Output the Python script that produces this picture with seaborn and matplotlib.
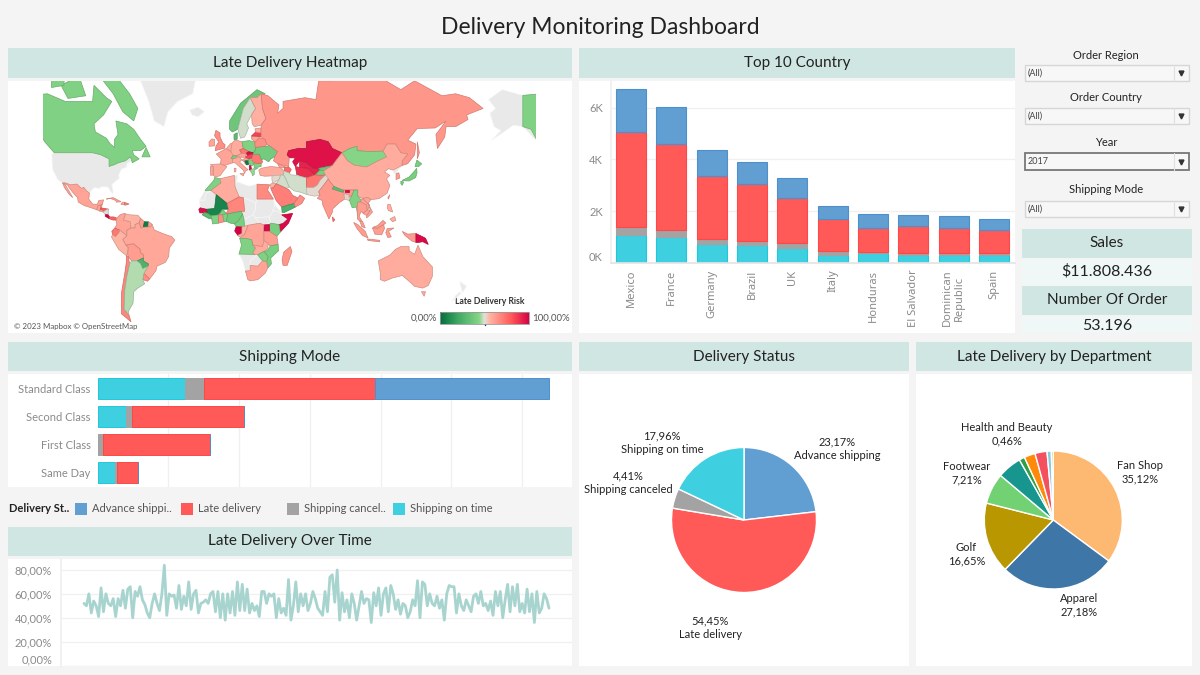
import numpy as np
import pandas as pd
import matplotlib
matplotlib.use("Agg")
import matplotlib.pyplot as plt
from matplotlib.colors import LinearSegmentedColormap, Normalize, to_rgb
from matplotlib.cm import ScalarMappable
from matplotlib.patches import Rectangle
from matplotlib.transforms import ScaledTranslation
import seaborn as sns

# ---------- data ----------
STATUS = ["Shipping on time", "Shipping canceled", "Late delivery", "Advance shipping"]
COL = {"Advance shipping": "#619ed2", "Late delivery": "#ff5a58",
       "Shipping canceled": "#a3a3a3", "Shipping on time": "#3ecfe0"}
EDGE = {"Advance shipping": "#4e90cc", "Late delivery": "#ff4747",
        "Shipping canceled": "#a3a3a3", "Shipping on time": "#1fc8dc"}

countries = ["Mexico", "France", "Germany", "Brazil", "UK", "Italy", "Honduras",
             "El Salvador", "Dominican\nRepublic", "Spain"]
c_ontime = [1070, 980, 720, 680, 580, 300, 360, 310, 310, 310]
c_cancel = [310, 290, 200, 160, 170, 140, 50, 60, 60, 60]
c_late = [3700, 3330, 2450, 2220, 1770, 1250, 930, 1060, 970, 910]
c_adv = [1640, 1430, 1000, 850, 750, 520, 530, 400, 470, 410]

modes = ["Standard Class", "Second Class", "First Class", "Same Day"]
m_ontime = [6165, 2000, 0, 1270]
m_cancel = [1349, 436, 390, 107]
m_late = [12066, 7904, 7590, 1498]
m_adv = [12305, 0, 0, 0]

status_labels = ["Advance shipping", "Late delivery", "Shipping canceled", "Shipping on time"]
status_share = [23.17, 54.45, 4.41, 17.96]

dept_share = [35.12, 27.18, 16.65, 7.21, 5.68, 1.3, 2.6, 2.8, 1.0, 0.46]
dept_colors = ["#fdb872", "#3f76a8", "#b99700", "#72d273", "#17968f", "#2f9e44",
               "#ff8a0a", "#f45060", "#8cc8e0", "#e8c84a"]

late_pct = [52,50,60,44,54,50,41,65,45,60,52,50,56,41,56,50,63,48,64,66,40,62,58,66,55,51,44,40,52,60,
            52,46,60,84,42,60,58,59,48,67,47,58,50,70,47,60,63,44,52,53,
            55,52,60,62,45,62,40,60,38,60,44,62,42,70,46,68,46,64,44,52,46,50,41,62,62,52,60,58,60,40,
            56,44,48,42,72,38,50,70,45,60,50,60,46,52,62,56,48,
            45,42,62,45,74,76,53,80,38,61,45,55,40,60,52,38,50,62,52,56,55,36,61,50,65,42,60,65,45,67,
            60,47,55,43,52,50,40,45,55,50,71,40,70,68,50,60,52,
            50,58,48,55,38,60,67,66,66,44,60,50,46,55,50,45,58,60,52,62,50,52,46,54,42,62,50,62,40,55,
            68,45,66,50,68,45,52,44,64,45,60,36,62,44,48,60,56,48]

# late-delivery risk per country (None = no data), outline in lon/lat
RISK = {
 "Canada":.42,"Arctic":.42,"USA":None,"Alaska":None,"Greenland":None,"Mexico":.60,"Guatemala":.60,"Belize":.62,
 "Honduras":.80,"ElSalvador":.55,"Nicaragua":.50,"CostaRica":1.0,"Panama":.78,"Cuba":.60,"Haiti":.60,"DomRep":.70,
 "Colombia":.60,"Venezuela":.56,"Guyana":.62,"Suriname":.05,"FrGuiana":.60,"Ecuador":.72,"Peru":.56,"Brazil":.59,
 "Bolivia":.62,"Paraguay":.25,"Uruguay":.66,"Chile":.68,"Argentina":.47,
 "Morocco":.42,"WSahara":None,"Algeria":.58,"Tunisia":None,"Libya":None,"Egypt":.67,"Mauritania":None,"Mali":.08,
 "Senegal":.97,"Guinea":.30,"Ivory":.42,"Burkina":.40,"Ghana":.66,"Togo":.42,"Niger":.68,"Nigeria":.38,"Chad":None,
 "Sudan":None,"SSudan":None,"Ethiopia":None,"Eritrea":None,"Somalia":.98,"Kenya":.40,"Uganda":.98,"Tanzania":.62,
 "Cameroon":.40,"CAR":None,"Gabon":1.0,"Congo":.56,"DRC":.60,"Angola":.42,"Zambia":.58,"Mozambique":.40,
 "Zimbabwe":.42,"Namibia":None,"Botswana":None,"SAfrica":.60,"Madagascar":.64,
 "Iceland":None,"UK":.66,"Ireland":.60,"France":.60,"Spain":.58,"Portugal":.60,"Benelux":.58,"Germany":.58,
 "Denmark":.30,"Norway":.36,"Sweden":.49,"Finland":.57,"Poland":.42,"Czechia":.72,"Slovakia":.97,"Austria":.60,
 "Switzerland":.40,"Italy":.58,"Hungary":.85,"Croatia":.60,"Bosnia":.05,"Serbia":.42,"Albania":.97,"Greece":.45,
 "Bulgaria":.42,"Romania":.72,"Ukraine":.38,"Belarus":.66,"Lithuania":.60,"Latvia":.85,"Estonia":.58,"Russia":.64,
 "Kazakhstan":.96,"Uzbekistan":.92,"Turkmenistan":.90,"Kyrgyzstan":.35,"Tajikistan":.40,"Mongolia":.44,"China":.58,
 "NKorea":None,"SKorea":.62,"Japan":.40,"Taiwan":.62,"Turkey":.58,"Georgia":.62,"Azerbaijan":.75,"Syria":.51,
 "Iraq":.49,"Iran":.49,"Jordan":.56,"Saudi":.70,"Yemen":.25,"Oman":.66,"Afghanistan":.72,"Pakistan":.51,"India":.63,
 "Nepal":.32,"Bhutan":.98,"Bangladesh":.52,"SriLanka":.74,"Myanmar":.42,"Thailand":.62,"Laos":.60,"Vietnam":.60,
 "Cambodia":.60,"Malaysia":.62,"Indonesia":.62,"PNG":.98,"Philippines":.57,"Australia":.58,"Tasmania":.58,"NZ":None,
}
SHAPES = {
 "Canada":[[(-141,69.6),(-128,70),(-115,68),(-95,68),(-94,72),(-85,69),(-81,68),(-87,64),(-94,61),(-93,58),(-85,55.5),(-82,53),(-79,51.5),(-79,55),(-76.5,57),(-78,62),(-70,61),(-65,59),(-60,55),(-56,52),(-60,50),(-66,50),(-65,48),(-61,46),(-66,44),(-67.5,47),(-71,45),(-76,44),(-79,43),(-83,42),(-83,46),(-89,48),(-95,49),(-123,49),(-130,54),(-135,59),(-141,60)]],
 "Arctic":[[(-62,66),(-68,70),(-78,74),(-90,74),(-80,70),(-73,65),(-65,62)],[(-118,72),(-105,74),(-100,69.5),(-113,68.8)],[(-125,76),(-115,76),(-116,72),(-125,71.5)],[(-59,47),(-53,47),(-56,51.5)]],
 "USA":[[(-124.7,48.4),(-123,49),(-95,49),(-89,48),(-83,46),(-83,42),(-79,43),(-76,44),(-71,45),(-67.5,47),(-67,44.8),(-70,43.5),(-70,41.7),(-74,40.5),(-76,37),(-75.5,35.3),(-81,31.5),(-80,27),(-80.5,25.2),(-82.5,28),(-84,30),(-89,30),(-90,29),(-94,29.5),(-97.3,26),(-99.5,27.5),(-101.5,29.8),(-103,29),(-106.5,31.8),(-111,31.3),(-114.8,32.5),(-117.2,32.5),(-120.5,34.5),(-124,40),(-124.5,43)]],
 "Alaska":[[(-141,60),(-141,69.6),(-156,71),(-166,68.5),(-161,66),(-165,64.5),(-162,60),(-157,58.5),(-164,54.6),(-152,59),(-148,60.5)],[(-141,60),(-135,59),(-130,54.5),(-133,55.5),(-138,58.5)]],
 "Greenland":[[(-73,76),(-20,76),(-20,73),(-22,70),(-33,68),(-40,65),(-43,60),(-50,62),(-54,68),(-60,73)]],
 "Mexico":[[(-117,32.5),(-114.8,32.5),(-111,31.3),(-106.5,31.8),(-103,29),(-101.5,29.8),(-99.5,27.5),(-97.3,26),(-97.8,22),(-95,18.5),(-91.5,18.5),(-90.5,21),(-87,21.5),(-88,18),(-91,17.5),(-92,14.6),(-96,16),(-101,17.5),(-105.5,20),(-106,23),(-109.5,26.5),(-112.5,30),(-113,31)],[(-114.7,31),(-112,27),(-109.5,23),(-112,25),(-115.5,29.5),(-117,32.5)]],
 "Guatemala":[[(-92,14.6),(-91,17.5),(-89.2,17.8),(-89.2,15.8),(-88.3,15.7),(-90,13.8)]],
 "Belize":[[(-89.2,17.8),(-88.3,18.4),(-88.3,16),(-89.2,15.9)]],
 "Honduras":[[(-89.2,15.8),(-88,15.8),(-83.2,15),(-84.7,14.7),(-87.5,13),(-89.2,14.3)]],
 "ElSalvador":[[(-90,13.8),(-89.2,14.3),(-87.7,13.8),(-87.8,13.2),(-89.8,13.4)]],
 "Nicaragua":[[(-87.5,13),(-84.7,14.7),(-83.2,15),(-83.7,11),(-85.7,11.1)]],
 "CostaRica":[[(-85.7,11.1),(-83.7,11),(-82.6,9.5),(-83,8.3),(-85.8,10)]],
 "Panama":[[(-83,8.3),(-82.6,9.5),(-79.5,9.5),(-77.3,8.6),(-77.9,7.2),(-80.4,7.3)]],
 "Cuba":[[(-85,22),(-80,23),(-74.2,20.2),(-77.7,19.9),(-78,21),(-82,22.5)]],
 "Haiti":[[(-74.4,18.5),(-73,19.9),(-71.7,19.8),(-71.6,18)]],
 "DomRep":[[(-71.7,19.8),(-68.4,18.6),(-71.5,17.8)]],
 "Colombia":[[(-77.3,8.6),(-75,11),(-72,12),(-71,11),(-72.5,7.3),(-67.5,6),(-67,1.5),(-70,-0.2),(-70,-4.2),(-74.5,-0.5),(-78.8,1.4),(-77.3,4),(-77.9,7.2)]],
 "Venezuela":[[(-72,12),(-68,11),(-62,10.7),(-60,8.5),(-61,5.2),(-64,4),(-64,1.5),(-67,1.5),(-67.5,6),(-72.5,7.3),(-71,11)]],
 "Guyana":[[(-60,8.5),(-57.2,6),(-58,2),(-59.8,1.3),(-61,5.2)]],
 "Suriname":[[(-57.2,6),(-54,5.9),(-54.5,2.3),(-58,2)]],
 "FrGuiana":[[(-54,5.9),(-51.6,4.2),(-52.8,2.3),(-54.5,2.3)]],
 "Ecuador":[[(-78.8,1.4),(-75.3,-0.1),(-75.5,-1.5),(-78.3,-4.9),(-80.3,-3.4),(-81,-1)]],
 "Peru":[[(-80.3,-3.4),(-78.3,-4.9),(-75.5,-1.5),(-75.3,-0.1),(-70,-4.2),(-73,-7),(-70.6,-11),(-69,-12.5),(-69.4,-17.3),(-70.4,-18.3),(-76,-14),(-81.3,-5)]],
 "Brazil":[[(-70,-4.2),(-70,-0.2),(-67,1.5),(-64,1.5),(-64,4),(-61,5.2),(-59.8,1.3),(-58,2),(-52.8,2.3),(-51.6,4.2),(-50,0),(-44,-2.5),(-37,-5),(-35,-7.5),(-39,-13),(-39.5,-19),(-42,-23),(-48,-25.5),(-48.8,-28.5),(-53.4,-33.7),(-57.6,-30.2),(-54.6,-25.6),(-54.3,-24),(-58,-22),(-57.8,-18),(-60.2,-16.2),(-60.5,-13.7),(-65.3,-10),(-70.6,-11),(-73,-7)]],
 "Bolivia":[[(-69,-12.5),(-70.6,-11),(-65.3,-10),(-60.5,-13.7),(-60.2,-16.2),(-57.8,-18),(-58,-20),(-62.5,-22),(-66.5,-22),(-69,-19),(-69.4,-17.3)]],
 "Paraguay":[[(-62.5,-22),(-58,-20),(-58,-22),(-54.3,-24),(-54.6,-25.6),(-58.5,-27.2),(-60,-24)]],
 "Uruguay":[[(-57.6,-30.2),(-53.4,-33.7),(-55,-35),(-58.4,-34)]],
 "Chile":[[(-70.4,-18.3),(-69,-19),(-68,-24),(-70,-32),(-71.5,-40),(-72,-50),(-68.5,-52.5),(-67,-55.5),(-74,-52),(-74,-42),(-71.5,-30),(-70.4,-23)]],
 "Argentina":[[(-66.5,-22),(-62.5,-22),(-60,-24),(-58.5,-27.2),(-54.6,-25.6),(-57.6,-30.2),(-58.4,-34),(-57,-36.5),(-62,-39),(-65,-41),(-65.5,-47),(-69,-51),(-68.5,-52.5),(-72,-50),(-71.5,-40),(-70,-32),(-68,-24)]],
 "Morocco":[[(-5.9,35.8),(-2,35),(-1.2,32.5),(-8.7,27.7),(-13,27.7),(-9.7,31),(-6.5,34)]],
 "WSahara":[[(-13,27.7),(-8.7,27.7),(-12,26),(-13,21.3),(-17,21.4)]],
 "Algeria":[[(-2,35),(8.5,37),(9,30),(12,23.5),(3.2,19),(-4.8,25),(-8.7,27.7),(-1.2,32.5)]],
 "Tunisia":[[(8.5,37),(11,37),(10.2,33.5),(9,30)]],
 "Libya":[[(11,33),(19,30.5),(25,31.7),(25,20),(24,19.5),(15,23),(12,23.5),(9,30),(10.2,33.5)]],
 "Egypt":[[(25,31.7),(34.2,31.3),(32.7,28),(37,22),(25,22)]],
 "Mauritania":[[(-17,21.2),(-13,21.3),(-13,23),(-12,26),(-8.7,27.3),(-4.8,25),(-6,15.5),(-12,15),(-16.5,16)]],
 "Mali":[[(-4.8,25),(3.2,19),(4.2,15),(0,15),(-3,11),(-8.3,10.3),(-11.3,12.3),(-12,15),(-6,15.5)]],
 "Senegal":[[(-17.5,14.7),(-16.5,16),(-12,15),(-11.3,12.3),(-16.7,12.4)]],
 "Guinea":[[(-15,11),(-13.7,12.6),(-11.3,12.3),(-8.3,10.3),(-8,8),(-10.5,8.5)]],
 "Ivory":[[(-8,8),(-8.3,10.3),(-3,11),(-3,5),(-7.5,4.4)]],
 "Burkina":[[(-3,11),(0,15),(2.5,12),(0,11)]],
 "Ghana":[[(-3,5),(-3,11),(0,11),(1,6)]],
 "Togo":[[(1,6),(0,11),(3.6,11.7),(2.7,6.3)]],
 "Niger":[[(4.2,15),(3.2,19),(12,23.5),(15,23),(16,13.5),(13.5,13.5),(3.6,11.7),(2.5,12)]],
 "Nigeria":[[(2.7,6.3),(3.6,11.7),(13.5,13.5),(14.5,11.5),(11.5,6.7),(8.5,4.5),(5.5,5)]],
 "Chad":[[(15,23),(24,19.5),(24,15),(22,11),(15.5,7.5),(14.5,11.5),(13.5,13.5),(16,13.5)]],
 "Sudan":[[(25,22),(37,22),(38,18),(36,12.5),(34,9.5),(24,9),(22,11),(24,15),(24,19.5),(25,20)]],
 "SSudan":[[(24,9),(34,9.5),(35,5),(30,3.7),(27,5),(22,11)]],
 "Eritrea":[[(36.5,14.3),(38,18),(43,12.5),(42,12.5)]],
 "Ethiopia":[[(36,12.5),(36.5,14.3),(42,12.5),(43,11),(47.5,8),(44,4.8),(41,4),(35,5),(34,9.5)]],
 "Somalia":[[(43,11),(51,12),(48,5),(42,-1.5),(41,4),(44,4.8),(47.5,8)]],
 "Kenya":[[(35,5),(41,4),(42,-1.5),(39.5,-4.6),(34,-1),(34,4)]],
 "Uganda":[[(30,3.7),(34,4),(34,-1),(30,-1)]],
 "Tanzania":[[(30,-1),(34,-1),(39.5,-4.6),(40.4,-10.5),(34.7,-11.5),(30,-8)]],
 "Cameroon":[[(8.5,4.5),(11.5,6.7),(14.5,11.5),(15.5,7.5),(16,2),(9.8,2.3)]],
 "CAR":[[(15.5,7.5),(22,11),(27,5),(18.5,3.5),(16,2)]],
 "Gabon":[[(9.8,2.3),(14,2.2),(14,-2.5),(11,-3.9),(8.7,-0.7)]],
 "Congo":[[(14,2.2),(18.5,3.5),(16,-3),(12,-5),(11,-3.9),(14,-2.5)]],
 "DRC":[[(18.5,3.5),(27,5),(30,3.7),(29.5,-4.5),(30,-8),(29,-12),(22,-11),(21,-7),(12.3,-6),(16,-3)]],
 "Angola":[[(12.3,-6),(16,-6),(21,-7),(22,-11),(24,-13),(22,-16.5),(23.4,-17.6),(11.8,-17.3),(13.7,-11)]],
 "Zambia":[[(22,-11),(29,-12),(30,-8),(33,-9.5),(33,-13.5),(30,-15.5),(25.5,-17.8),(23.4,-17.6),(22,-16.5),(24,-13)]],
 "Mozambique":[[(34.7,-11.5),(40.4,-10.5),(40.7,-15),(35,-20),(35.5,-24),(32.8,-26.8),(32,-22.5),(33,-19),(30.3,-15.6),(33,-14.5)]],
 "Zimbabwe":[[(25.5,-17.8),(30,-15.5),(33,-19),(32,-22.5),(29,-22)]],
 "Namibia":[[(11.8,-17.3),(23.4,-17.6),(25,-18),(20,-22),(20,-28.5),(16.5,-28.6),(14.5,-22)]],
 "Botswana":[[(20,-22),(25,-18),(25.5,-17.8),(29,-22),(25.5,-25.5),(20,-25)]],
 "SAfrica":[[(16.5,-28.6),(20,-28.5),(20,-25),(25.5,-25.5),(29,-22),(32,-22.5),(32.8,-26.8),(31,-30),(25.7,-34),(20,-34.8),(18.3,-34)]],
 "Madagascar":[[(49.3,-12),(50.5,-15.5),(47,-25),(44,-25),(43.3,-21),(44.5,-16)]],
 "Iceland":[[(-24,65.5),(-18,66.4),(-13.5,65),(-18,63.4),(-22.5,64)]],
 "UK":[[(-5.5,50),(1.4,51.2),(1.7,52.7),(0,53.5),(-2,56),(-2,57.6),(-5,58.6),(-6,56.5),(-3,54),(-5,52)]],
 "Ireland":[[(-10,52),(-6,52.2),(-6,55),(-8,55.2),(-10,54)]],
 "France":[[(-4.7,48.4),(2.5,51),(8,49),(7.5,44),(3,43),(1.5,42.5),(-1.7,43.4),(-1.2,46)]],
 "Spain":[[(-9.2,43),(-1.7,43.4),(3,42),(0,39),(-2,36.8),(-5.5,36),(-7,37.2),(-7,42)]],
 "Portugal":[[(-9,42),(-7,42),(-7,37.2),(-8.9,37)]],
 "Benelux":[[(3,51.3),(6,53.4),(7,53),(6,49.5),(3,50.8)]],
 "Germany":[[(6,51),(7,53.5),(9,54.8),(14,54),(15,51),(12.3,50.3),(13.8,48.7),(10,47.5),(7.6,47.6),(6,49.5)]],
 "Denmark":[[(8.2,55),(8.2,57),(10.6,57.7),(10.5,55)]],
 "Norway":[[(5,59),(5,62),(13,67.5),(25,71),(31,70),(25,69),(20,69),(15,66),(12,61),(11,59),(7,58)]],
 "Sweden":[[(11,59),(12,61),(15,66),(20,69),(24,66),(21,64),(17.5,61),(18.8,59.5),(16,56),(13,55.5)]],
 "Finland":[[(24,66),(20,69),(25,69),(28,70),(29,66),(31.5,62.8),(28,60.5),(23,60),(21.5,61),(21,64)]],
 "Poland":[[(14,54),(19,54.5),(23.5,54),(24,50.5),(22.5,49),(19,49.5),(15,51)]],
 "Czechia":[[(12.3,50.3),(15,51),(19,49.5),(17,48.7),(13.8,48.7)]],
 "Slovakia":[[(17,48.7),(19,49.5),(22.5,49),(22,48.3),(18,47.8)]],
 "Austria":[[(10,47.5),(13.8,48.7),(17,48.7),(16.5,46.8),(12,46.8)]],
 "Switzerland":[[(6,46.2),(7.6,47.6),(10,47.5),(10,46.3)]],
 "Italy":[[(7,44),(7,45.8),(12,47),(13.7,45.7),(12.3,44.3),(16,41.8),(18.5,40.2),(16.5,39.5),(16,38),(15,40),(12,42),(9,44)],[(12.5,38),(15.5,38.2),(15,36.7)],[(8.3,41),(9.7,41),(9.5,39),(8.5,39)]],
 "Hungary":[[(16.5,46.8),(18,47.8),(22,48.3),(21,46),(18.8,45.9)]],
 "Croatia":[[(13.7,45.2),(16.5,46.5),(19,45.5),(16,43.5),(18,42.7),(14.8,45)]],
 "Bosnia":[[(16,45),(19,45),(19,43.2),(17.5,42.9)]],
 "Serbia":[[(19,46),(21.5,45),(22.8,43),(20.5,42.3),(19,44)]],
 "Albania":[[(19.3,42.5),(20.5,42.3),(21,40.5),(19.5,40)]],
 "Greece":[[(20,39.7),(21,40.5),(26,41.3),(23,40),(23,37.5),(21.7,36.8),(21.2,38.3)]],
 "Bulgaria":[[(22.8,43),(22.8,44),(28,43.7),(28,42),(23,41.3)]],
 "Romania":[[(21,46),(22,48),(26.6,48.3),(28.2,45.5),(29,44.8),(28.6,43.8),(25,43.7),(22.8,44)]],
 "Ukraine":[[(22.5,49),(24,50.5),(24,51.6),(31,52),(34,52.3),(40,49.6),(38,47),(35,46),(33.5,44.5),(30,46),(28.2,45.5),(26.6,48.3),(22,48.3)]],
 "Belarus":[[(23.5,52),(23.5,54),(26.6,55.7),(31,55),(32,53),(31,52),(24,51.6)]],
 "Lithuania":[[(21,55.2),(21,56.4),(26,56.3),(26.6,55.7),(23.5,54)]],
 "Latvia":[[(21,56.4),(24,58),(28,57.5),(28,56),(26,56.3)]],
 "Estonia":[[(23.5,59.2),(28,59.5),(27.5,57.7),(24,58)]],
 "Russia":[[(28,60.5),(31.5,62.8),(29,66),(28,70),(33,69.5),(41,67),(40,64.5),(44,66),(44,68),(60,69),(68,68.5),(70,73),(80,73),(87,75),(105,77.5),(113,74),(130,71),(140,73),(160,69.5),(170,70),(180,69),(190,66),(178,64),(179,62.5),(170,60),(163,60),(162,56),(156.7,51),(155.6,57),(163,62),(155,59.5),(142,59.3),(135,54.7),(141,53),(140,48),(135,43.5),(130.7,42.5),(131,45),(135,48.4),(130,49),(126,53),(120,53),(117,49.8),(108,49.5),(98,50),(98,52),(92,50.8),(87,49),(80,51),(77,54),(71,55),(61,54),(61,51),(55,51),(48,50),(47,48),(48.5,46),(48,42),(40,43.5),(37,45),(38,47),(40,49.6),(34,52.3),(32,53),(31,55),(28,56),(28,59.5)],[(142,54),(143.5,49),(142,46)]],
 "Kazakhstan":[[(47,48),(48,50),(55,51),(61,51),(61,54),(71,55),(77,54),(80,51),(87,49),(82.5,45),(80,42.5),(70,41),(66,41),(61,44),(56,45),(53,42),(51,44.5),(53,46.5),(49,46.5)]],
 "Uzbekistan":[[(56,45),(61,44),(66,41),(70,41),(71,40),(67.5,37.3),(62,41),(56,41.5)]],
 "Turkmenistan":[[(53,42),(56,41.5),(62,41),(67.5,37.3),(61,35.5),(54,37.5)]],
 "Kyrgyzstan":[[(70,41),(80,42.5),(74,39.5),(71,40)]],
 "Tajikistan":[[(67.5,37.3),(71,40),(74,39.5),(75,37.2),(71,37)]],
 "Mongolia":[[(87,49),(92,50.8),(98,52),(98,50),(108,49.5),(117,49.8),(119.7,47),(112,44.5),(105,41.7),(96,42.7),(91,45)]],
 "China":[[(73.5,39.5),(80,42.5),(82.5,45),(87,49),(91,45),(96,42.7),(105,41.7),(112,44.5),(119.7,47),(117,49.8),(120,53),(126,53),(130,49),(135,48.4),(131,45),(130.7,42.5),(124.3,40),(121,40.8),(118,39),(122,37),(119.5,35),(122,31),(120,26),(114,22.3),(108,21.6),(106,23),(102,22.5),(98.5,24),(98.5,28),(92,28),(86,28),(81,30.3),(78.5,33),(75,37)]],
 "NKorea":[[(124.3,40),(130.7,42.5),(127.5,39.5),(126.5,38),(125,38)]],
 "SKorea":[[(126.5,38),(128.5,38.5),(129.3,35.5),(126.5,34.5)]],
 "Japan":[[(130.9,34),(136,36),(140,39.5),(141.5,41),(141.8,38.5),(140.8,35.7),(136,33.7),(132,33.8)],[(130,33.5),(132,33),(131,31),(130,32)],[(140.3,42),(141.7,45.4),(145.2,43.4),(143,42)]],
 "Taiwan":[[(120.5,23),(122,25),(121,22)]],
 "Turkey":[[(26.3,40),(28,41),(35,42),(41.5,41.5),(44.7,39.7),(44.5,37.2),(36,36.7),(30.6,36.5),(27.3,37)]],
 "Georgia":[[(40,43.5),(46,41.8),(43.5,41.2),(41.5,41.5)]],
 "Azerbaijan":[[(45,41.3),(48,41.8),(50,40.3),(48.7,38.5),(45,39.7)]],
 "Syria":[[(36,36.7),(42.3,37.2),(41,34.4),(36.5,32.4),(35.8,35)]],
 "Iraq":[[(42.3,37.2),(44.5,37.2),(46,35),(48.5,30),(46.5,29),(39,32),(41,34.4)]],
 "Iran":[[(44.5,39.5),(48,38.5),(50,37.3),(54,37),(61,35.5),(61,31.5),(63,27),(61.5,25),(57,26.5),(52,27.5),(48.5,30),(46,35),(44.5,37.2)]],
 "Jordan":[[(36.5,32.4),(39,32),(37,29.5),(35,29.5),(34.5,31.5)]],
 "Saudi":[[(35,29),(37,29.5),(39,32),(46.5,29),(48.5,28),(51,24.5),(55,22.7),(52,19),(48,18),(43,16.5),(39,21),(36.5,26)]],
 "Yemen":[[(43,16.5),(48,18),(52,19),(53,16.5),(45,12.7),(43.3,12.7)]],
 "Oman":[[(52,19),(55,22.7),(56.3,24.8),(59.8,22.5),(57.7,19),(53,16.5)]],
 "Afghanistan":[[(61,35.5),(67.5,37.3),(71,37),(75,37.2),(71,34),(69,31),(66,29.5),(61,29.5),(61,31.5)]],
 "Pakistan":[[(61,29.5),(66,29.5),(69,31),(71,34),(75,37.2),(77,35),(74.5,32),(70,27),(71,24.5),(67,24),(61.5,25)]],
 "India":[[(77,35),(78.5,33),(81,30.3),(80,28.7),(88,26.5),(88.2,28),(92,28),(96,28),(94,24),(92,23),(92,25),(88.5,25.5),(89,22),(85,19.5),(80,15),(80,13),(77.5,8),(73,18),(72.7,21),(69,22.5),(71,24.5),(70,27),(74.5,32)]],
 "Nepal":[[(80,28.7),(81,30.3),(88,27.8),(88,26.5)]],
 "Bhutan":[[(89,28),(92,28),(92,26.8),(89,26.8)]],
 "Bangladesh":[[(88.5,25.5),(92,25),(92.5,21),(89,22)]],
 "SriLanka":[[(80,9.5),(81.8,7.5),(80.5,6)]],
 "Myanmar":[[(92.5,21),(94,24),(96,28),(98.5,28),(98.5,24),(101,21.5),(98.5,16),(98.7,10),(97.5,16.5),(94.5,16)]],
 "Thailand":[[(98,16),(98.5,20),(101,20),(105,18),(105.5,14.5),(102.5,12),(101,13.5),(99.5,10),(101.5,6.5),(100,6.5),(98.3,8)]],
 "Laos":[[(101,21.5),(102,22.5),(107,18),(106,14.5),(105.5,14.5),(105,18),(101,20)]],
 "Vietnam":[[(102,22.5),(106,23),(108,21.6),(106,19),(109.3,13),(107,10.5),(105,8.7),(105,10.5),(107.5,14),(107,18)]],
 "Cambodia":[[(102.5,12),(105.5,14.5),(107.5,14),(105,10.5)]],
 "Malaysia":[[(100,6.5),(102,6.3),(104,1.5),(101.5,2.5)],[(109.6,2),(113,3.2),(117,7),(119,5),(117.5,4),(115,2.5),(113,1.2)]],
 "Indonesia":[[(95.5,5.5),(98.5,4),(104,-1),(106,-5.8),(102,-4),(98,1)],[(105.5,-6.5),(114.5,-7.5),(114.5,-8.6),(106,-7.6)],[(109,1.5),(113,1.2),(115,2.5),(117.5,4),(118,1),(116,-3.5),(111,-3),(110,0)],[(120,1),(125,1.5),(121,-1),(123,-5),(120.5,-5.5),(119,-2)],[(131,-1),(135,-3),(141,-2.6),(141,-9),(138,-8),(133,-4)]],
 "PNG":[[(141,-2.6),(145,-4.5),(148,-6),(150,-10.5),(146,-8.5),(143,-9),(141,-9)]],
 "Philippines":[[(120.5,18.5),(122.3,18.3),(124,13),(121,14),(120,16)],[(122,8),(125.5,9.8),(126.3,7),(124,6)]],
 "Australia":[[(113.5,-22),(122,-18),(126,-14),(130,-12),(136,-12),(136,-15),(140,-17.5),(142.5,-11),(146,-19),(153,-26),(153,-32),(150,-37.5),(146,-39),(140,-38),(136,-35),(131,-31.5),(124,-33),(118,-35),(115,-34),(115,-30)]],
 "Tasmania":[[(145,-41),(148,-41),(147,-43.5)]],
 "NZ":[[(173,-35),(178,-38),(175,-41.5),(174,-39)],[(173,-41),(174,-42),(167,-46.5),(170,-43)]],
}
WRAPPED = ["Canada", "Arctic", "Alaska"]

# ---------- style ----------
sns.set_theme(style="white")
plt.rcParams["font.family"] = ["Lato", "DejaVu Sans"]
BG = "#f4f4f4"; HEAD = "#d0e6e2"; BAND = "#f0f7f7"; TICK = "#8a8a8a"; GRID = "#f0f0f0"; DARK = "#222222"

fig = plt.figure(figsize=(12, 6.75), dpi=100, facecolor=BG)
W, H = 1200.0, 675.0


def px_axes(x0, y0, x1, y1, **kw):
    ax = fig.add_axes([x0 / W, 1 - y1 / H, (x1 - x0) / W, (y1 - y0) / H], **kw)
    ax.patch.set_alpha(0)
    return ax


base = px_axes(0, 0, W, H, zorder=-1)
base.set_xlim(0, W); base.set_ylim(H, 0); base.axis("off")


def box(x0, y0, x1, y1, fc, ec="none", lw=0):
    base.add_patch(Rectangle((x0, y0), x1 - x0, y1 - y0, fc=fc, ec=ec, lw=lw))


def label(x, y, s, size=10, color=DARK, ha="center", weight="normal", family=None):
    return base.text(x, y, s, fontsize=size, color=color, ha=ha, va="center", weight=weight,
                     family=family if family else ["Lato", "DejaVu Sans"], linespacing=1.25)


label(600, 27, "Delivery Monitoring Dashboard", size=16.5)
for x0, x1, y0, y1, pan0, pan1, title in [
    (8, 572, 48, 78, 81, 333, "Late Delivery Heatmap"),
    (579, 1015, 48, 78, 81, 333, "Top 10 Country"),
    (8, 572, 342, 371, 374, 487, "Shipping Mode"),
    (8, 572, 527, 556, 559, 666, "Late Delivery Over Time"),
    (579, 909, 342, 371, 374, 666, "Delivery Status"),
    (916, 1192, 342, 371, 374, 666, "Late Delivery by Department"),
]:
    box(x0, y0, x1, y1, HEAD)
    box(x0, pan0, x1, pan1, "white")
    label((x0 + x1) / 2, (y0 + y1) / 2, title, size=11)

# ---------- filters and KPIs ----------
for name, value, lab_y, y0, y1, strong in [
    ("Order Region", "(All)", 55.7, 65, 80.7, False),
    ("Order Country", "(All)", 97.3, 107.7, 124.3, False),
    ("Year", "2017", 142, 153.3, 170, True),
    ("Shipping Mode", "(All)", 189.7, 201, 217.3, False),
]:
    label(1106, lab_y, name, size=8)
    box(1024.5, y0, 1189, y1, "#f7f7f7", ec="#777777" if strong else "#d6d6d6", lw=1.3 if strong else 1)
    base.plot([1173.5, 1173.5], [y0, y1], color="#e0e0e0", lw=0.8)
    label(1028, (y0 + y1) / 2, value, size=6.5, ha="left", color="#444444")
    base.plot([1181], [(y0 + y1) / 2], marker="v", ms=3.5, color="#333333")
box(1022, 229, 1192, 258, HEAD); label(1107, 243, "Sales", size=11)
box(1022, 259.5, 1192, 285, BAND); label(1107, 271, "$11.808.436", size=11.5)
box(1022, 286, 1192, 315, HEAD); label(1107, 299.5, "Number Of Order", size=11)
box(1022, 317, 1192, 333, BAND); label(1107, 326, "53.196", size=11.5)


def offset_label(lab, pts):
    lab.set_transform(lab.get_transform() + ScaledTranslation(0, pts / 72, fig.dpi_scale_trans))


# ---------- map ----------
def merc(lat):
    return np.log(np.tan(np.pi / 4 + np.radians(np.asarray(lat, dtype=float)) / 2))


risk_cmap = LinearSegmentedColormap.from_list(
    "risk", [(0, "#006d3c"), (.2, "#3fa862"), (.44, "#86d586"), (.5, "#dfe0d8"),
             (.56, "#ffb3a3"), (.8, "#ff5a58"), (1, "#d60045")])
risk_norm = Normalize(0, 1)
amap = px_axes(43.3, 81, 536.5, 333)
amap.set_xlim(-131, 229)
amap.set_ylim((230 - 333) / 78.5, (230 - 81) / 78.5)
amap.axis("off")
for name, polys in SHAPES.items():
    r = RISK[name]
    fc = "#e9e9e9" if r is None else risk_cmap(risk_norm(r))
    ec = "#f6f6f6" if r is None else tuple(c * .82 for c in to_rgb(fc))
    shifts = [0, 360] if name in WRAPPED else [0]
    for poly in polys:
        lon, lat = zip(*poly)
        for s in shifts:
            amap.fill(np.array(lon) + s, merc(lat), fc=fc, ec=ec, lw=.5, zorder=1 if r is None else 2)

cax = px_axes(440, 312, 529, 324)
cbar = fig.colorbar(ScalarMappable(risk_norm, risk_cmap), cax=cax, orientation="horizontal")
cbar.set_ticks([]); cbar.outline.set_edgecolor("#999999"); cbar.outline.set_linewidth(.6)
label(489.5, 301.5, "Late Delivery Risk", size=6.2, weight="bold", color="#333333")
label(437, 318, "0,00%", size=7, ha="right", color="#555555")
label(532, 318, "100,00%", size=7, ha="left", color="#555555")
base.plot([485, 485], [322, 325], color="#333333", lw=1, zorder=5)
label(14, 326.5, "© 2023 Mapbox © OpenStreetMap", size=5.7, ha="left", color="#555555")

# ---------- top 10 stacked bars ----------
atop = px_axes(611, 81, 1015, 262.7)
df = pd.DataFrame({"country": countries, "Shipping on time": c_ontime, "Shipping canceled": c_cancel,
                   "Late delivery": c_late, "Advance shipping": c_adv})
bottom = np.zeros(len(df))
for s in STATUS:
    sns.barplot(data=df, x="country", y=s, order=countries, color=COL[s], saturation=1, width=.745,
                bottom=bottom, edgecolor=EDGE[s], linewidth=.8, ax=atop, errorbar=None)
    bottom = bottom + df[s].to_numpy()
atop.set_xlim(-.5, 9.52); atop.set_ylim(0, 7040)
atop.set_xlabel(""); atop.set_ylabel("")
atop.set_yticks([0, 2000, 4000, 6000], ["0K", "2K", "4K", "6K"])
atop.set_axisbelow(True); atop.yaxis.grid(True, color=GRID, lw=1); atop.xaxis.grid(False)
atop.tick_params(axis="y", length=0, labelsize=8, labelcolor=TICK, pad=6)
atop.tick_params(axis="x", length=0, labelsize=8, labelcolor=TICK, labelrotation=90, pad=5)
for lab in atop.get_xticklabels():
    lab.set_family("Noto Sans"); lab.set_linespacing(1.1)
atop.set_xticks(np.arange(10) + .5, minor=True)
atop.tick_params(axis="x", which="minor", length=3, color="#e2e2e2", width=.8)
offset_label(atop.get_yticklabels()[0], 4.5)
for sp in ["top", "right"]:
    atop.spines[sp].set_visible(False)
atop.spines["left"].set_color(GRID); atop.spines["bottom"].set_color("#e4e4e4")

# ---------- shipping mode stacked bars ----------
amode = px_axes(97.5, 374, 572, 487)
dm = pd.DataFrame({"mode": modes, "Shipping on time": m_ontime, "Shipping canceled": m_cancel,
                   "Late delivery": m_late, "Advance shipping": m_adv})
left = np.zeros(len(dm))
for s in STATUS:
    sns.barplot(data=dm, y="mode", x=s, order=modes, orient="h", color=COL[s], saturation=1, width=.735,
                left=left, edgecolor=EDGE[s], linewidth=.7, ax=amode, errorbar=None)
    left = left + dm[s].to_numpy()
amode.set_xlim(0, 33510); amode.set_ylim(3.5, -.5)
amode.set_xlabel(""); amode.set_ylabel("")
amode.set_xticks(np.arange(5000, 33000, 5000), [])
amode.set_axisbelow(True); amode.xaxis.grid(True, color=GRID, lw=1); amode.yaxis.grid(False)
amode.tick_params(axis="both", length=0)
amode.tick_params(axis="y", labelsize=8, labelcolor=TICK, pad=5)
sns.despine(ax=amode, left=True, bottom=True)

# legend
label(9, 508.7, "Delivery St..", size=8, ha="left", weight="bold")
for x, name, s in [(75, "Advance shippi..", "Advance shipping"), (181, "Late delivery", "Late delivery"),
                   (286.5, "Shipping cancel..", "Shipping canceled"), (392.5, "Shipping on time", "Shipping on time")]:
    box(x, 502.5, x + 12, 514.5, COL[s])
    label(x + 17, 508.7, name, size=8, ha="left", color="#555555")

# ---------- line ----------
aline = px_axes(60.5, 559, 572, 665.5)
idx = np.arange(len(late_pct))
sns.lineplot(x=idx, y=late_pct, color="#a8d4cf", lw=2, ax=aline)
step = (549 - 84) / (len(late_pct) - 1)
aline.set_xlim(-(84 - 60.5) / step, (572 - 84) / step); aline.set_ylim(0, 89.2)
aline.set_xticks([])
aline.set_yticks([0, 20, 40, 60, 80], ["0,00%", "20,00%", "40,00%", "60,00%", "80,00%"])
aline.yaxis.grid(True, color=GRID, lw=1); aline.set_axisbelow(True)
aline.tick_params(axis="y", length=0, labelsize=8, labelcolor=TICK, pad=6)
offset_label(aline.get_yticklabels()[0], 5)
sns.despine(ax=aline, top=True, right=True, bottom=True)
aline.spines["left"].set_color(GRID)

# ---------- pies ----------
def pie_axes(cx, cy, r):
    ax = px_axes(cx - r, cy - r, cx + r, cy + r)
    ax.set_aspect("equal")
    return ax


astat = pie_axes(744, 520, 72.5)
astat.pie(status_share, colors=[COL[s] for s in status_labels], startangle=90, counterclock=False, radius=1)
astat.set_xlim(-1, 1); astat.set_ylim(-1, 1)
for x, y, t in [(837, 449, "23,17%\nAdvance shipping"), (710.5, 628, "54,45%\nLate delivery"),
                (628, 483, "4,41%\nShipping canceled"), (662, 442.5, "17,96%\nShipping on time")]:
    label(x, y, t, size=8)

adept = pie_axes(1053.3, 520, 69)
adept.pie(dept_share, colors=dept_colors, startangle=90, counterclock=False, radius=1)
adept.set_xlim(-1, 1); adept.set_ylim(-1, 1)
for x, y, t in [(1140, 472, "Fan Shop\n35,12%"), (1079, 605, "Apparel\n27,18%"), (966.5, 554.5, "Golf\n16,65%"),
                (967, 473, "Footwear\n7,21%"), (1007, 434.5, "Health and Beauty\n0,46%")]:
    label(x, y, t, size=8)

fig.savefig("out.png", dpi=100, facecolor=fig.get_facecolor())
